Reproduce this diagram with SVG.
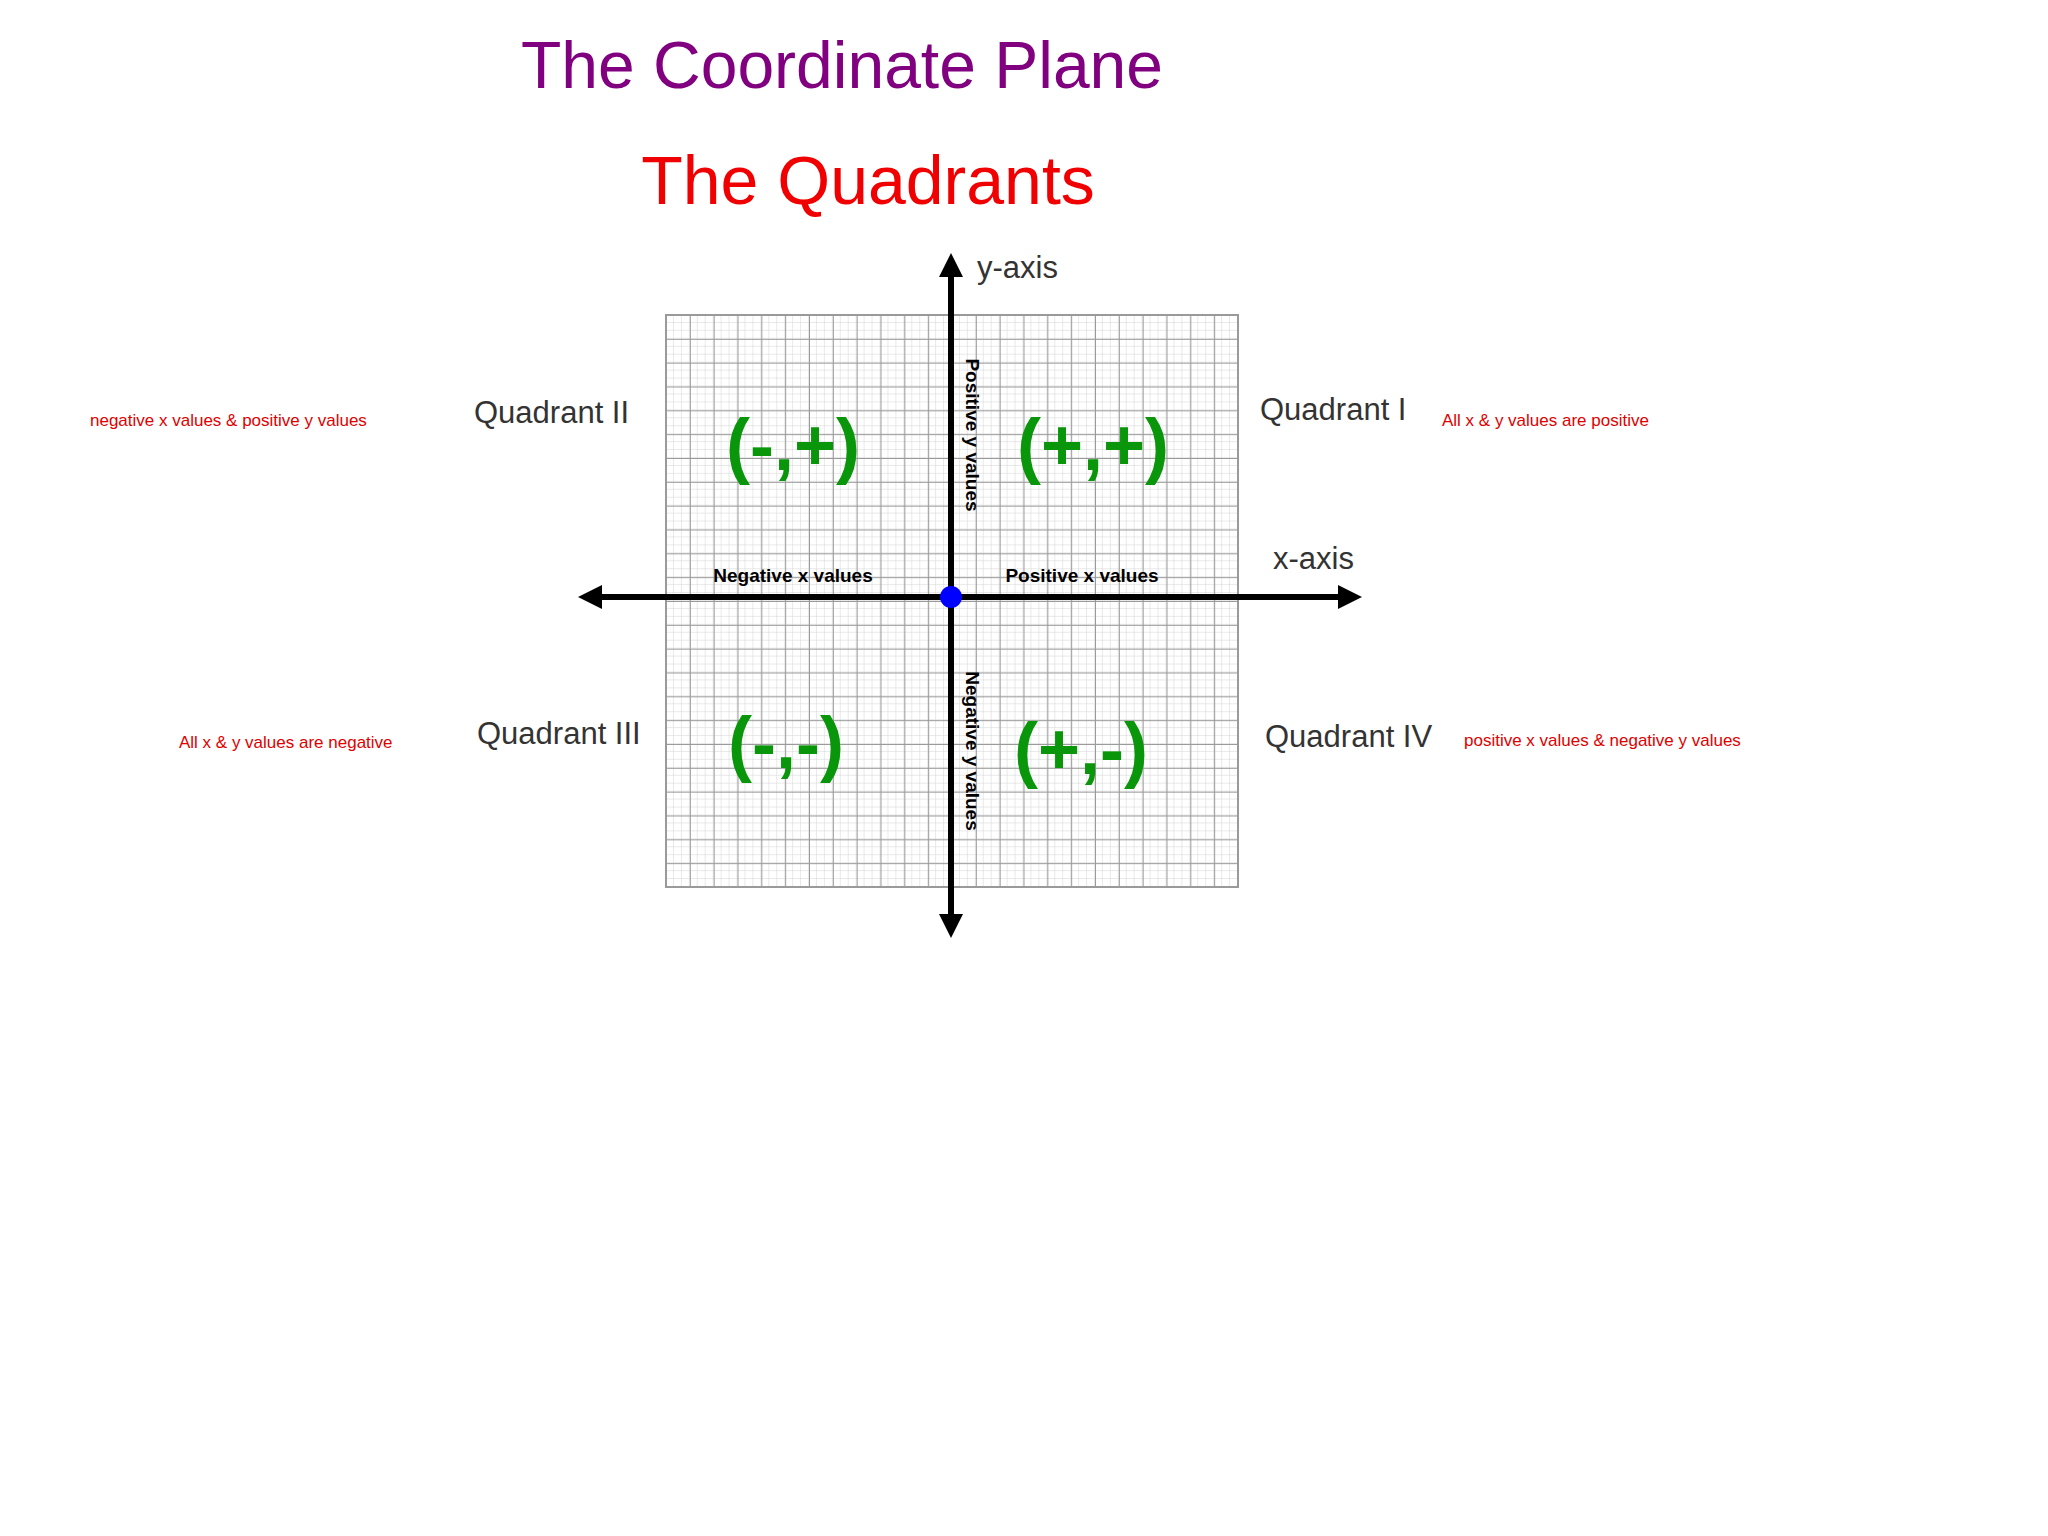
<svg xmlns="http://www.w3.org/2000/svg" width="2048" height="1536" viewBox="0 0 2048 1536">
<defs>
<pattern id="minor" x="666" y="315" width="7.944" height="7.944" patternUnits="userSpaceOnUse">
<path d="M7.944 0V7.944M0 7.944H7.944" stroke="#d4d4d4" stroke-width="1" fill="none"/>
</pattern>
<pattern id="major" x="666" y="315" width="23.833" height="23.833" patternUnits="userSpaceOnUse">
<path d="M0 0V23.833M0 0H23.833" stroke="#9a9a9a" stroke-width="2" fill="none"/>
</pattern>
<marker id="ah" viewBox="0 0 10 10" refX="5" refY="5" markerWidth="4" markerHeight="4" orient="auto-start-reverse"><path d="M0 0L10 5L0 10z" fill="#000"/></marker>
</defs>
<style>
.s{font-family:"Liberation Sans",Arial,sans-serif}
.q{font-size:31px;fill:#333}
.r{font-size:17px;fill:#e00000}
.b{font-size:19px;font-weight:bold;fill:#000}
.g{font-size:72px;font-weight:bold;fill:#0a960a}
</style>
<rect width="2048" height="1536" fill="#fff"/>
<text class="s" x="842" y="88" font-size="66" fill="#800080" text-anchor="middle">The Coordinate Plane</text>
<text class="s" x="868" y="204" font-size="68" fill="#f00000" text-anchor="middle">The Quadrants</text>
<g id="grid">
<rect x="666" y="315" width="572" height="572" fill="url(#minor)"/>
<rect x="666" y="315" width="572" height="572" fill="url(#major)"/>
<rect x="666" y="315" width="572" height="572" fill="none" stroke="#9a9a9a" stroke-width="2"/>
</g>
<g id="connectors">
<line x1="951" y1="265" x2="951" y2="926" stroke="#000" stroke-width="6" marker-start="url(#ah)" marker-end="url(#ah)"/>
<line x1="590" y1="597" x2="1350" y2="597" stroke="#000" stroke-width="6" marker-start="url(#ah)" marker-end="url(#ah)"/>
</g>
<g id="origin"><circle cx="951" cy="597" r="11" fill="#0000ff"/></g>
<g id="labels" class="s">
<text class="q" x="977" y="278">y-axis</text>
<text class="q" x="1273" y="569">x-axis</text>
<text class="q" x="474" y="423">Quadrant II</text>
<text class="q" x="1260" y="420">Quadrant I</text>
<text class="q" x="477" y="744">Quadrant III</text>
<text class="q" x="1265" y="747">Quadrant IV</text>
<text class="r" x="90" y="426">negative x values &amp; positive y values</text>
<text class="r" x="1442" y="426">All x &amp; y values are positive</text>
<text class="r" x="179" y="748">All x &amp; y values are negative</text>
<text class="r" x="1464" y="746">positive x values &amp; negative y values</text>
<text class="b" x="793" y="582" text-anchor="middle">Negative x values</text>
<text class="b" x="1082" y="582" text-anchor="middle">Positive x values</text>
<text class="b" transform="translate(966,435) rotate(90)" text-anchor="middle">Positive y values</text>
<text class="b" transform="translate(966,751) rotate(90)" text-anchor="middle">Negative y values</text>
<text class="g" x="793" y="470" text-anchor="middle">(-,+)</text>
<text class="g" x="1093" y="470" text-anchor="middle">(+,+)</text>
<text class="g" x="786" y="768" text-anchor="middle">(-,-)</text>
<text class="g" x="1081" y="774" text-anchor="middle">(+,-)</text>
</g>
</svg>
